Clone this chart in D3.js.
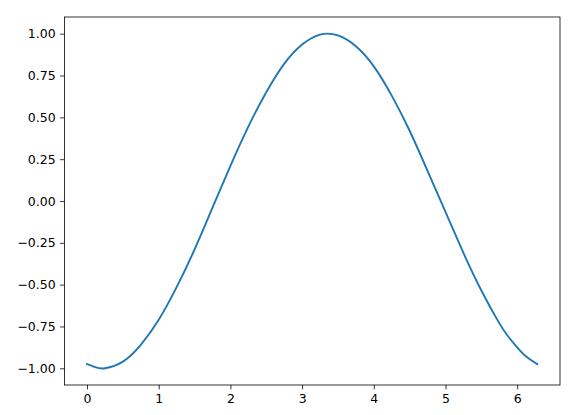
<!DOCTYPE html>
<html>
<head>
<meta charset="utf-8">
<script src="https://cdn.jsdelivr.net/npm/d3@7"></script>
<style>
  body { margin: 0; background: #fff; }
  text { font-family: 'DejaVu Sans', sans-serif; }
</style>
</head>
<body>
<div id="canvas"></div>
<script>
const w = 580,
    h = 415,
    ax_left = 64.5,
    ax_right = 560,
    ax_top = 17,
    ax_bottom = 385,
    line_color = '#1f77b4',
    font_size = 12.5;

// Values.
const xs = [0, 0.125, 0.25, 0.5, 0.75, 1, 1.25, 1.5, 1.75, 2, 2.25, 2.5, 2.75, 3, 3.25, 3.5,
    3.75, 4, 4.25, 4.5, 4.75, 5, 5.25, 5.5, 5.75, 5.875, 6, 6.125, 6.28];
const ys = [-0.975, -0.995, -1.0, -0.96, -0.86, -0.71, -0.515, -0.29, -0.04, 0.21, 0.445, 0.65, 0.82,
    0.935, 0.995, 0.99, 0.925, 0.805, 0.63, 0.42, 0.18, -0.065, -0.31, -0.535, -0.73, -0.81, -0.875,
    -0.93, -0.975];
const x_ticks = [0, 1, 2, 3, 4, 5, 6];
const y_ticks = [-1.0, -0.75, -0.5, -0.25, 0.0, 0.25, 0.5, 0.75, 1.0];

const svg = d3.select('#canvas').append('svg')
    .attr('width', w)
    .attr('height', h);

const x = d3.scaleLinear().domain([-0.3142, 6.5973]).range([ax_left, ax_right]);
const y = d3.scaleLinear().domain([-1.1, 1.1]).range([ax_bottom, ax_top]);

const line = d3.line()
    .x((d, i) => x(xs[i]))
    .y(d => y(d))
    .curve(d3.curveNatural);

svg.append('path')
    .datum(ys)
    .attr('d', line)
    .attr('fill', 'none')
    .attr('stroke', line_color)
    .attr('stroke-width', 1.9)
    .attr('stroke-linecap', 'square');

const x_axis = svg.append('g')
    .attr('transform', 'translate(0,' + ax_bottom + ')')
    .call(d3.axisBottom(x).tickValues(x_ticks).tickFormat(d3.format('d'))
        .tickSizeOuter(0).tickSize(4.4).tickPadding(4.4));

const y_axis = svg.append('g')
    .attr('transform', 'translate(' + ax_left + ',0)')
    .call(d3.axisLeft(y).tickValues(y_ticks).tickFormat(d3.format('.2f'))
        .tickSizeOuter(0).tickSize(4.4).tickPadding(4.4));

[x_axis, y_axis].forEach(g => {
    g.select('.domain').remove();
    g.selectAll('line').attr('stroke', '#000').attr('stroke-width', 0.8);
    g.selectAll('text').attr('fill', '#000').style('font-size', font_size + 'px')
        .style('font-family', 'DejaVu Sans');
});

// Frame around the axes.
svg.append('rect')
    .attr('x', ax_left)
    .attr('y', ax_top)
    .attr('width', ax_right - ax_left)
    .attr('height', ax_bottom - ax_top)
    .attr('fill', 'none')
    .attr('stroke', '#000')
    .attr('stroke-width', 0.8);
</script>
</body>
</html>
